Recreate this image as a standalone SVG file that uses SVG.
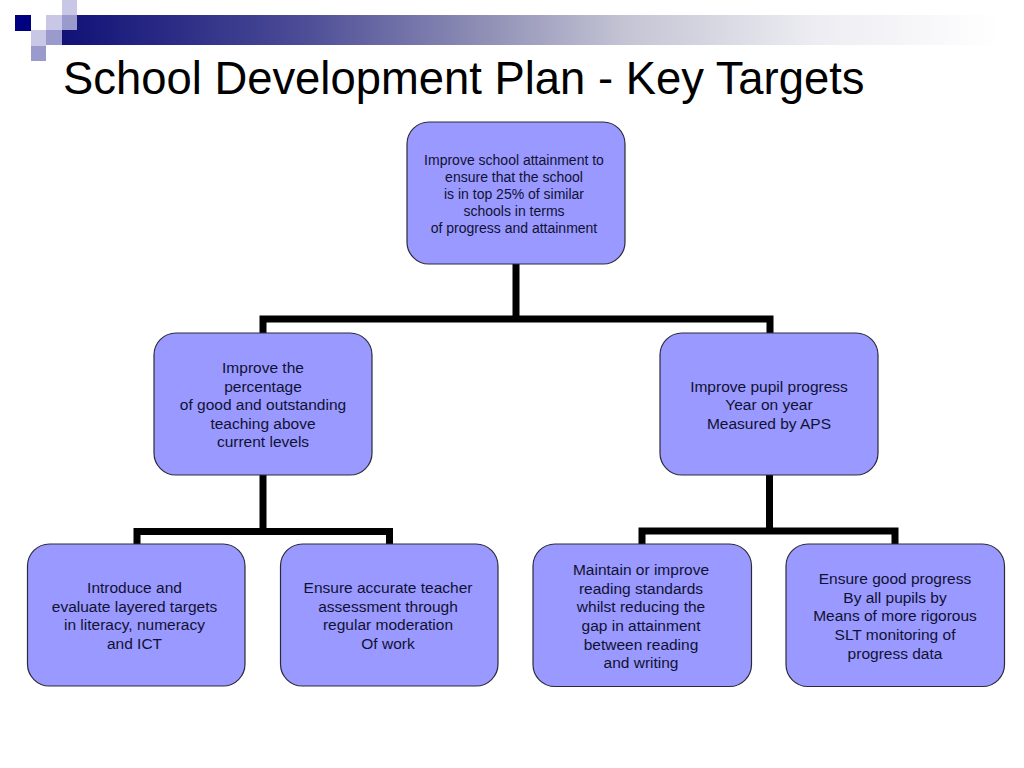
<svg xmlns="http://www.w3.org/2000/svg" width="1024" height="768" viewBox="0 0 1024 768">
<style>
.node rect{fill:#9999ff;stroke:#2a2a3a;stroke-width:1.2}
.node text{font-family:"Liberation Sans",Arial,sans-serif;font-size:15.5px;fill:#111133;text-anchor:middle}
.node.small text{font-size:14px}
.conn{fill:none;stroke:#000;stroke-width:7;stroke-linecap:square;stroke-linejoin:miter}
.title{font-family:"Liberation Sans",Arial,sans-serif;font-size:45.4px;fill:#000}
</style>
<defs>
<linearGradient id="bar" x1="62" y1="0" x2="1000" y2="0" gradientUnits="userSpaceOnUse">
<stop offset="0" stop-color="#111177"/>
<stop offset="0.25" stop-color="#4a4a96"/>
<stop offset="0.45" stop-color="#8f8fb6"/>
<stop offset="0.6" stop-color="#c4c4d4"/>
<stop offset="0.8" stop-color="#ececf2"/>
<stop offset="1" stop-color="#ffffff"/>
</linearGradient>
</defs>
<rect width="1024" height="768" fill="#fff"/>
<g id="decoration">
<rect x="62" y="15" width="962" height="30" fill="url(#bar)"/>
<rect x="62" y="0" width="15" height="15" fill="#c8c8e6"/>
<rect x="15" y="15" width="16" height="16" fill="#000080"/>
<rect x="46" y="15" width="16" height="15" fill="#c8c8e6"/>
<rect x="62" y="15" width="15" height="15" fill="#9a9acc"/>
<rect x="31" y="30" width="15" height="16" fill="#c8c8e6"/>
<rect x="46" y="30" width="16" height="15" fill="#9a9acc"/>
<rect x="31" y="46" width="15" height="15" fill="#9a9acc"/>
</g>
<text class="title" x="63" y="94">School Development Plan - Key Targets</text>
<g id="connectors">
<path class="conn" d="M516 264 V319 M263 333 V319 H770 V333"/>
<path class="conn" d="M263 475 V531.5 M137 544 V531.5 H389.5 V544"/>
<path class="conn" d="M769.5 475 V531 M642 544 V531 H895 V544"/>
</g>
<g id="n-top" class="node small">
<rect x="407" y="122" width="218" height="142" rx="22"/>
<text x="514" y="165">Improve school attainment to</text>
<text x="514" y="182">ensure that the school</text>
<text x="514" y="199">is in top 25% of similar</text>
<text x="514" y="216">schools in terms</text>
<text x="514" y="233">of progress and attainment</text>
</g>
<g id="n-teaching" class="node">
<rect x="154" y="333" width="218" height="142" rx="22"/>
<text x="263" y="373">Improve the</text>
<text x="263" y="391.6">percentage</text>
<text x="263" y="410.2">of good and outstanding</text>
<text x="263" y="428.8">teaching above</text>
<text x="263" y="447.4">current levels</text>
</g>
<g id="n-progress" class="node">
<rect x="660" y="333" width="218" height="142" rx="22"/>
<text x="769" y="391.5">Improve pupil progress</text>
<text x="769" y="410">Year on year</text>
<text x="769" y="428.6">Measured by APS</text>
</g>
<g id="n-layered" class="node">
<rect x="27.5" y="544" width="217.5" height="142" rx="22"/>
<text x="134.5" y="593">Introduce and</text>
<text x="134.5" y="611.7">evaluate layered targets</text>
<text x="134.5" y="630.3">in literacy, numeracy</text>
<text x="134.5" y="649">and ICT</text>
</g>
<g id="n-assessment" class="node">
<rect x="280.5" y="544" width="217.5" height="142" rx="22"/>
<text x="388" y="593">Ensure accurate teacher</text>
<text x="388" y="611.7">assessment through</text>
<text x="388" y="630.3">regular moderation</text>
<text x="388" y="649">Of work</text>
</g>
<g id="n-reading" class="node">
<rect x="533" y="544" width="218.5" height="142.5" rx="22"/>
<text x="641" y="575">Maintain or improve</text>
<text x="641" y="593.5">reading standards</text>
<text x="641" y="612.3">whilst reducing the</text>
<text x="641" y="631">gap in attainment</text>
<text x="641" y="649.7">between reading</text>
<text x="641" y="668.3">and writing</text>
</g>
<g id="n-monitoring" class="node">
<rect x="786" y="544" width="218.5" height="142.5" rx="22"/>
<text x="895" y="584">Ensure good progress</text>
<text x="895" y="602.7">By all pupils by</text>
<text x="895" y="621.3">Means of more rigorous</text>
<text x="895" y="640">SLT monitoring of</text>
<text x="895" y="658.5">progress data</text>
</g>
</svg>
